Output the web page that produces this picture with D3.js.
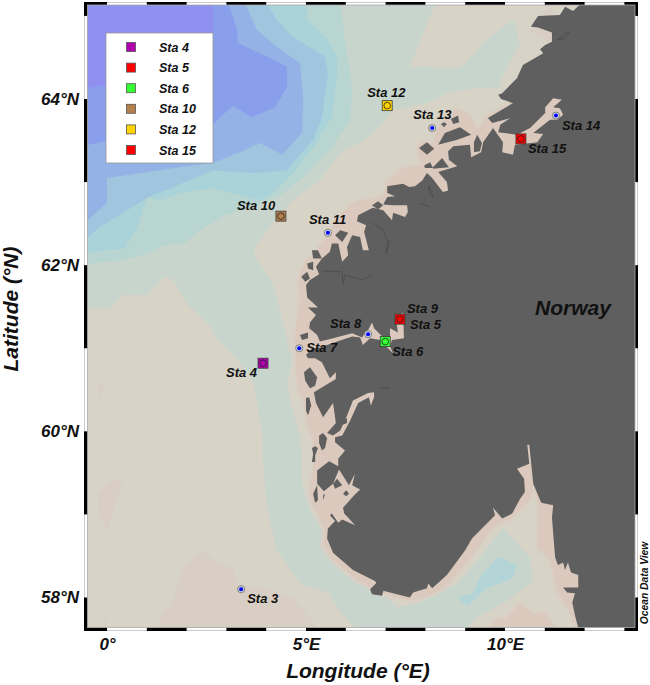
<!DOCTYPE html>
<html>
<head>
<meta charset="utf-8">
<script src="https://cdn.jsdelivr.net/npm/d3@7"></script>
<style>
body { margin: 0; background: #fff; }
text { font-family: "Liberation Sans", Arial, sans-serif; font-weight: bold; font-style: italic; fill: #111; }
</style>
</head>
<body>
<div id="map"></div>
<script>
// all outlines are [longitude E, latitude N]
const land = [[11.89,65.14],[11.71,65.06],[11.51,65.11],[11.38,65.01],[10.83,65.00],[10.65,64.87],[10.83,64.86],[11.18,64.80],[11.18,64.69],[11.01,64.65],[10.88,64.60],[10.96,64.55],[10.45,64.41],[10.30,64.25],[9.93,64.07],[9.83,64.05],[9.90,64.00],[10.20,63.95],[9.57,63.77],[9.68,63.71],[10.13,63.77],[9.88,63.69],[9.83,63.60],[10.30,63.57],[10.63,63.65],[11.01,63.83],[11.01,63.90],[11.21,64.01],[11.43,63.99],[11.21,63.90],[11.38,63.89],[11.46,63.81],[11.31,63.75],[11.13,63.75],[10.71,63.59],[10.96,63.58],[10.81,63.48],[10.50,63.46],[10.25,63.45],[10.20,63.33],[9.93,63.36],[9.95,63.48],[9.70,63.65],[9.45,63.48],[9.40,63.36],[9.15,63.30],[9.12,63.45],[8.70,63.43],[8.57,63.37],[8.59,63.27],[8.80,63.19],[8.32,63.12],[8.54,63.00],[8.57,62.90],[8.44,62.88],[8.17,63.05],[8.04,63.11],[7.92,63.02],[7.74,62.95],[7.59,62.94],[7.44,62.98],[7.04,62.95],[7.04,62.87],[7.24,62.83],[7.04,62.82],[6.94,62.73],[7.19,62.72],[7.54,62.72],[7.56,62.64],[7.49,62.58],[7.19,62.63],[7.16,62.54],[6.94,62.66],[6.68,62.69],[6.31,62.60],[6.28,62.53],[6.51,62.48],[6.46,62.40],[6.58,62.18],[6.43,62.18],[6.36,62.34],[6.16,62.36],[6.03,62.22],[6.06,62.12],[5.91,62.04],[5.81,62.26],[5.65,62.26],[5.60,62.16],[5.40,62.08],[5.25,61.98],[5.33,61.89],[5.10,61.82],[5.00,61.76],[5.03,61.61],[5.30,61.49],[5.05,61.49],[5.25,61.40],[5.10,61.31],[5.08,61.24],[5.28,61.16],[5.35,61.08],[5.68,61.12],[6.16,61.18],[6.41,61.13],[6.48,61.19],[6.56,61.22],[6.66,61.31],[6.71,61.24],[6.94,61.13],[7.11,61.13],[7.11,61.24],[7.31,61.19],[7.26,61.36],[7.44,61.43],[7.46,61.12],[7.16,61.10],[7.11,61.02],[7.19,60.94],[7.04,61.01],[6.86,61.10],[6.61,61.12],[6.43,61.04],[6.36,61.13],[6.16,61.14],[5.65,61.06],[5.35,61.01],[5.15,61.00],[5.00,60.92],[5.05,60.88],[5.23,60.88],[5.40,60.83],[5.60,60.64],[5.75,60.71],[5.75,60.63],[5.20,60.47],[5.25,60.34],[5.43,60.17],[5.68,60.34],[5.75,60.10],[5.53,59.98],[5.68,59.95],[5.86,60.01],[6.03,60.19],[6.18,60.37],[6.56,60.46],[6.71,60.47],[6.71,60.41],[6.63,60.31],[6.58,60.41],[6.31,60.34],[6.11,60.13],[5.91,59.95],[5.73,59.93],[5.73,59.87],[5.98,59.77],[5.81,59.67],[5.81,59.58],[5.58,59.64],[5.28,59.53],[5.28,59.37],[5.45,59.28],[5.68,59.37],[5.83,59.54],[6.08,59.35],[6.23,59.49],[6.16,59.35],[6.36,59.30],[6.21,59.23],[5.93,59.08],[5.96,59.01],[6.08,58.95],[6.23,58.87],[5.91,58.94],[5.81,58.90],[5.65,59.01],[5.60,58.99],[5.73,58.92],[5.55,58.83],[5.53,58.71],[5.68,58.54],[6.18,58.33],[6.73,58.20],[6.94,58.08],[7.61,58.00],[7.69,58.06],[8.04,58.11],[8.07,58.17],[8.17,58.11],[8.54,58.27],[9.00,58.57],[9.17,58.71],[9.75,58.99],[9.70,59.08],[9.93,58.95],[10.18,59.01],[10.38,59.19],[10.50,59.27],[10.48,59.43],[10.30,59.55],[10.61,59.61],[10.56,59.84],[10.61,59.84],[10.71,59.37],[10.91,59.14],[11.21,59.11],[11.18,58.96],[11.26,58.48],[11.33,58.39],[11.46,58.42],[11.51,58.33],[11.58,58.42],[11.66,58.30],[11.84,58.27],[11.84,58.12],[11.46,58.12],[11.56,58.06],[11.76,58.05],[11.69,57.94],[11.76,57.78],[11.86,57.6],[13.5,57.6],[13.5,65.2],[11.89,65.2]];

const islands = [
  [[5.86,62.42],[6.06,62.39],[5.91,62.28],[5.73,62.36]],
  [[5.15,62.18],[5.30,62.18],[5.40,62.08],[5.18,62.08]],
  [[5.03,62.02],[5.18,62.04],[5.18,61.94],[5.05,61.96]],
  [[4.88,61.86],[5.03,61.92],[5.10,61.84],[4.98,61.80]],
  [[4.85,61.16],[5.05,61.19],[5.05,61.12],[4.90,61.10]],
  [[4.95,60.71],[5.10,60.77],[5.28,60.65],[5.23,60.55],[5.10,60.52],[4.98,60.61]],
  [[5.00,60.40],[5.08,60.41],[5.13,60.31],[5.05,60.19],[5.00,60.25]],
  [[5.91,60.13],[6.03,60.16],[6.03,60.10],[5.93,60.08]],
  [[5.33,59.95],[5.43,59.98],[5.53,59.92],[5.48,59.80],[5.40,59.77],[5.33,59.86]],
  [[5.15,59.80],[5.23,59.82],[5.30,59.80],[5.23,59.71],[5.23,59.63],[5.15,59.63],[5.18,59.73]],
  [[5.68,59.37],[5.78,59.43],[5.91,59.35],[5.73,59.31]],
  [[5.93,59.25],[6.01,59.29],[6.08,59.25],[6.01,59.22]],
  [[5.18,59.25],[5.28,59.35],[5.30,59.17],[5.23,59.14]],
  [[5.43,59.23],[5.48,59.25],[5.43,59.17]],
  [[6.78,58.18],[6.86,58.14],[6.96,58.11],[6.91,58.02],[6.66,58.04],[6.61,58.10]],
  [[8.32,63.45],[8.49,63.59],[8.87,63.66],[9.15,63.57],[8.80,63.51]],
  [[7.84,63.41],[8.04,63.48],[8.22,63.40],[8.04,63.33]],
  [[8.39,63.70],[8.47,63.72],[8.54,63.70],[8.47,63.66]],
  [[8.64,63.76],[8.82,63.80],[8.85,63.72],[8.70,63.70]],
  [[7.97,63.20],[8.12,63.24],[8.19,63.17],[7.99,63.17]],
  [[8.19,63.18],[8.42,63.29],[8.59,63.18],[8.19,63.16]],
  [[9.30,63.57],[9.42,63.47],[9.37,63.37],[9.22,63.36],[9.22,63.48]],
  [[6.66,62.72],[6.81,62.77],[6.94,62.72],[6.81,62.67]]
];

const inlandLines = [
  [[5.43,61.93],[5.91,61.92],[5.93,61.78],[5.98,61.88],[6.41,61.82],[6.66,61.89]],
  [[6.68,62.51],[6.94,62.42],[7.06,62.28],[7.01,62.14],[7.11,62.29]],
  [[11.31,64.71],[11.56,64.80],[11.61,64.81],[11.51,64.73],[11.31,64.71]],
  [[7.82,62.75],[8.12,62.70]],
  [[8.09,62.95],[8.19,62.83],[8.09,62.87],[8.09,62.95]],
  [[6.86,60.53],[6.99,60.52],[7.11,60.52]]
];

// depth bands, shallow to deep, each one painted over the one before
const bandShelf = [[8.29,65.2],[7.61,64.39],[8.87,64.37],[9.62,64.75],[10.20,64.95],[10.38,64.67],[9.88,64.23],[9.88,64.14],[9.20,64.13],[8.54,64.07],[8.04,63.95],[7.19,63.87],[6.86,63.66],[6.36,63.47],[5.93,63.39],[5.35,63.02],[4.77,62.82],[4.35,62.63],[3.67,62.18],[3.79,62.06],[4.17,61.78],[4.65,60.86],[4.52,60.58],[4.60,60.37],[4.85,59.93],[4.90,59.65],[4.90,59.37],[5.10,59.05],[5.53,58.72],[5.68,58.53],[6.68,58.17],[7.29,57.88],[7.79,57.93],[8.37,58.05],[8.80,58.17],[9.37,58.48],[9.95,58.84],[10.63,58.48],[10.71,58.20],[10.05,57.96],[9.30,57.76],[8.95,57.6],[6.28,57.6],[5.78,57.88],[5.60,58.05],[4.85,58.17],[4.27,58.57],[4.02,59.08],[3.92,59.65],[3.92,59.93],[3.67,60.61],[3.54,60.70],[3.14,60.94],[2.79,61.10],[2.54,61.30],[2.04,61.52],[1.66,61.82],[1.46,61.86],[1.26,61.78],[1.01,61.64],[0.38,61.64],[0.08,61.48],[-0.8,61.48],[-0.8,65.2]];
const bandPale = [[5.86,65.2],[5.98,64.71],[6.16,64.11],[6.11,63.75],[5.60,63.39],[4.98,63.08],[4.35,62.84],[3.72,62.72],[2.97,62.60],[2.34,62.42],[1.96,62.27],[1.46,62.24],[1.01,62.14],[0.40,62.06],[-0.8,62.00],[-0.8,65.2]];
const bandTeal = [[4.98,65.2],[5.05,64.95],[5.55,64.71],[5.78,64.51],[5.78,64.27],[5.65,63.78],[5.18,63.42],[4.67,63.11],[4.05,62.82],[3.77,62.78],[2.66,62.93],[1.83,62.87],[1.33,62.78],[1.01,62.82],[0.75,62.45],[0.45,62.20],[-0.05,62.18],[-0.8,62.12],[-0.8,65.2]];
const bandSky = [[3.97,65.2],[4.27,64.95],[4.67,64.75],[5.48,64.51],[5.55,64.31],[5.40,63.78],[5.18,63.51],[4.52,63.14],[3.67,63.11],[2.66,63.14],[1.66,62.94],[1.01,62.81],[0.40,62.63],[-0.18,62.46],[-0.8,62.20],[-0.8,65.2]];
const bandBlue = [[3.42,65.2],[3.77,64.83],[4.27,64.63],[4.85,64.43],[4.93,64.02],[4.90,63.59],[4.40,63.33],[3.84,63.47],[3.34,63.36],[2.66,63.23],[1.83,63.18],[1.01,63.12],[0,63.05],[0,62.75],[-0.8,62.40],[-0.8,65.2]];
const bandDeep = [[3.02,65.2],[3.27,64.83],[3.29,64.67],[4.02,64.51],[4.52,64.39],[4.52,64.14],[4.22,63.90],[3.64,63.78],[3.17,63.92],[2.84,63.78],[2.66,63.69],[0.83,63.57],[-0.8,63.42],[-0.8,65.2]];
const bandDeepest = [[2.66,65.2],[2.66,64.47],[-0.03,64.17],[-0.8,64.11],[-0.8,65.2]];

// Skagerrak pocket
const skagerrakPocket = [[8.80,57.99],[9.20,58.05],[9.37,58.24],[9.82,58.49],[10.30,58.39],[10.20,58.23],[9.55,58.11],[9.05,57.90]];

// shallow water along the coast
const coastWest = [[10.23,63.99],[9.88,63.89],[9.55,63.80],[9.37,63.65],[9.27,63.65],[9.12,63.82],[8.75,63.89],[8.49,63.77],[8.29,63.63],[8.19,63.47],[7.87,63.48],[7.77,63.39],[7.92,63.20],[7.49,63.18],[7.29,63.12],[7.01,62.99],[6.96,62.84],[6.81,62.81],[6.36,62.78],[6.11,62.72],[5.81,62.60],[5.60,62.39],[5.28,62.20],[4.98,62.04],[4.85,61.90],[4.80,61.76],[4.85,61.61],[4.77,61.34],[4.72,61.13],[4.75,60.92],[4.77,60.55],[4.93,60.37],[5.03,60.07],[5.18,59.89],[5.18,59.53],[5.08,59.29],[5.15,59.11],[5.30,58.99],[5.48,58.81],[5.43,58.63],[5.68,58.45],[6.23,58.23],[6.86,58.06],[7.61,57.96],[8.17,58.04],[8.62,58.18],[9.12,58.47],[9.75,58.87],[10.13,58.94],[10.63,59.17],[11,60],[11.8,63.5],[11.5,64.1]];
const coastEast = [[10.63,59.53],[10.83,59.13],[10.81,58.60],[11.13,58.45],[11.31,58.08],[11.56,57.88],[11.81,57.6],[12.39,57.6],[12.39,59.53]];
const patchSouth = [[9.55,57.6],[9.80,57.75],[10.05,57.75],[10.38,57.93],[10.71,57.81],[11.01,57.81],[11.31,57.6]];
const patchSouthWest = [[1.26,57.6],[1.41,57.84],[1.63,57.90],[1.88,58.33],[2.39,58.57],[2.76,58.41],[3.17,58.36],[3.29,58.14],[3.59,58.14],[4.17,58.08],[4.67,58.00],[5.35,57.6]];
const patchSmall = [
  [[-0.23,59.27],[0.20,59.42],[0.38,59.39],[0,58.78],[-0.23,59.05]],
  [[-0.23,60.58],[-0.03,60.58],[-0.20,60.40]],
  [[-0.18,57.6],[0,57.78],[0,57.6]],
  [[11.13,65.10],[10.93,65.01],[11.38,64.96]],
  [[10.58,64.84],[11.26,64.86],[11.26,64.65],[10.83,64.75]]
];

// sampled stations
const sampledNames = ['Sta 4', 'Sta 5', 'Sta 6', 'Sta 10', 'Sta 12', 'Sta 15'];
const sampledLon = [3.92, 7.36, 6.99, 4.37, 7.04, 10.40];
const sampledLat = [60.82, 61.35, 61.08, 62.59, 63.92, 63.52];
const sampledColors = ['#b000b0', '#ff0000', '#33ff33', '#b3804d', '#ffd400', '#ff0000'];

// other stations
const otherNames = ['Sta 3', 'Sta 7', 'Sta 8', 'Sta 9', 'Sta 11', 'Sta 13', 'Sta 14'];
const otherLon = [3.37, 4.83, 6.56, 7.36, 5.55, 8.17, 11.28];
const otherLat = [58.10, 61.00, 61.17, 61.35, 62.39, 63.65, 63.80];

const lonTicks = [0, 5, 10];
const lonTickLabels = ['0°', '5°E', '10°E'];
const latTicks = [58, 60, 62, 64];
const latTickLabels = ['58°N', '60°N', '62°N', '64°N'];
const lonBands = [-1, 1, 3, 5, 7, 9, 11, 13];
const latBands = [57, 59, 61, 63, 65];

const width = 650;
const height = 685;
const frame = {left: 87.5, right: 635, top: 5, bottom: 627.5};

const x = d3.scaleLinear().domain([0, 10]).range([107, 505]);
const y = d3.scaleLinear().domain([58, 64]).range([597.5, 99]);

const svg = d3.select('#map').append('svg')
  .attr('width', width)
  .attr('height', height)
  .style('display', 'block');

svg.append('clipPath').attr('id', 'frame').append('rect')
  .attr('x', frame.left).attr('y', frame.top)
  .attr('width', frame.right - frame.left).attr('height', frame.bottom - frame.top);

const outline = d3.line().x(d => x(d[0])).y(d => y(d[1]));
const closed = d => outline(d) + 'Z';

const map = svg.append('g').attr('clip-path', 'url(#frame)');

map.append('rect')
  .attr('x', frame.left).attr('y', frame.top)
  .attr('width', frame.right - frame.left).attr('height', frame.bottom - frame.top)
  .attr('fill', '#d7d3c7');

function fillArea(points, color) {
  map.append('path').attr('d', closed(points)).attr('fill', color);
}

patchSmall.forEach(p => fillArea(p, '#d8cec3'));
fillArea(patchSouthWest, '#d8cec3');

fillArea(bandShelf, '#c8d5cd');
fillArea(bandPale, '#b9d5d2');
fillArea(bandTeal, '#a9d3d9');
fillArea(bandSky, '#a0c5df');
fillArea(bandBlue, '#94b2e6');
fillArea(bandDeep, '#899fec');
fillArea(bandDeepest, '#8f90f0');
fillArea(skagerrakPocket, '#b4d5d8');

// coast shallows: a paler halo first, then the darker band
[coastWest, coastEast, patchSouth].forEach(p => {
  map.append('path').attr('d', closed(p))
    .attr('fill', '#d9d1c5').attr('stroke', '#d9d1c5')
    .attr('stroke-width', 6).attr('stroke-linejoin', 'round');
});
[coastWest, coastEast, patchSouth].forEach(p => fillArea(p, '#dac9bc'));

fillArea(land, '#5f5f5f');
islands.forEach(p => fillArea(p, '#5f5f5f'));

map.selectAll('.inland')
  .data(inlandLines)
  .join('path')
    .attr('class', 'inland')
    .attr('d', outline)
    .attr('fill', 'none')
    .attr('stroke', '#474747')
    .attr('stroke-width', 0.7);

// checkered frame
const frameBars = svg.append('g').attr('clip-path', 'url(#outer)');
svg.append('clipPath').attr('id', 'outer').append('rect')
  .attr('x', 84).attr('y', 2).attr('width', 554).attr('height', 629);

frameBars.append('rect')
  .attr('x', 84).attr('y', 2).attr('width', 554).attr('height', 629)
  .attr('fill', 'none').attr('stroke', '#bbb').attr('stroke-width', 1.5);

frameBars.selectAll('.barTop')
  .data(lonBands)
  .join('rect')
    .attr('x', d => x(d)).attr('y', 2)
    .attr('width', d => x(d + 1) - x(d)).attr('height', 3)
    .attr('fill', '#000');

frameBars.selectAll('.barBottom')
  .data(lonBands)
  .join('rect')
    .attr('x', d => x(d)).attr('y', frame.bottom)
    .attr('width', d => x(d + 1) - x(d)).attr('height', 3.5)
    .attr('fill', '#000');

[84, frame.right].forEach(left => {
  frameBars.append('g').selectAll('rect')
    .data(latBands)
    .join('rect')
      .attr('x', left).attr('y', d => y(d + 1))
      .attr('width', 3.5).attr('height', d => y(d) - y(d + 1))
      .attr('fill', '#000');
});

svg.append('rect')
  .attr('x', frame.left).attr('y', frame.top)
  .attr('width', frame.right - frame.left).attr('height', frame.bottom - frame.top)
  .attr('fill', 'none').attr('stroke', '#aaa').attr('stroke-width', 0.8);

// stations
const marks = svg.append('g');

marks.selectAll('.plain')
  .data(otherNames.filter(n => n !== 'Sta 9'))
  .join('g')
    .attr('transform', n => {
      const i = otherNames.indexOf(n);
      return `translate(${x(otherLon[i])},${y(otherLat[i])})`;
    })
    .call(g => g.append('circle').attr('r', 3.6).attr('fill', '#c9d2d6').attr('stroke', '#666').attr('stroke-width', 0.7))
    .call(g => g.append('circle').attr('r', 2).attr('fill', '#0000ff'));

marks.selectAll('.sampled')
  .data(sampledNames)
  .join('g')
    .attr('transform', (n, i) => `translate(${x(sampledLon[i])},${y(sampledLat[i])})`)
    .call(g => g.append('rect').attr('x', -5).attr('y', -5).attr('width', 10).attr('height', 10)
      .attr('fill', (n, i) => sampledColors[i]).attr('stroke', '#3a3a3a').attr('stroke-width', 0.8))
    .call(g => g.append('circle').attr('r', 3.3)
      .attr('fill', (n, i) => sampledColors[i]).attr('stroke', '#222').attr('stroke-width', 0.8));

// label placement relative to the station mark
const labelOffset = {
  'Sta 3': [6, 14], 'Sta 4': [-37, 14], 'Sta 5': [10, 10], 'Sta 6': [7, 14],
  'Sta 7': [7, 4], 'Sta 8': [-38, -6], 'Sta 9': [7, -6], 'Sta 10': [-44, -6],
  'Sta 11': [-19, -9], 'Sta 12': [-20, -9], 'Sta 13': [-19, -9], 'Sta 14': [6, 14],
  'Sta 15': [7, 14]
};

function stationLabel(name, lon, lat) {
  const off = labelOffset[name];
  svg.append('text')
    .attr('x', x(lon) + off[0])
    .attr('y', y(lat) + off[1])
    .attr('font-size', 13)
    .text(name);
}
sampledNames.forEach((n, i) => stationLabel(n, sampledLon[i], sampledLat[i]));
otherNames.forEach((n, i) => stationLabel(n, otherLon[i], otherLat[i]));

// legend
const legendRow = d3.scalePoint().domain(sampledNames).range([47, 150]);
const legend = svg.append('g');
legend.append('rect')
  .attr('x', 106).attr('y', 33).attr('width', 107).attr('height', 130)
  .attr('fill', '#fff').attr('stroke', '#999').attr('stroke-width', 0.8);
legend.selectAll('.swatch')
  .data(sampledNames)
  .join('rect')
    .attr('x', 126.5).attr('y', d => legendRow(d) - 4.5)
    .attr('width', 9).attr('height', 9)
    .attr('fill', (d, i) => sampledColors[i])
    .attr('stroke', '#555').attr('stroke-width', 0.8);
legend.selectAll('text')
  .data(sampledNames)
  .join('text')
    .attr('x', 159).attr('y', d => legendRow(d) + 4.5)
    .attr('font-size', 12.5)
    .text(d => d);

// axes
const xAxis = d3.axisBottom(x)
  .tickValues(lonTicks)
  .tickFormat((d, i) => lonTickLabels[i])
  .tickSize(0);
svg.append('g')
  .attr('transform', 'translate(0,635)')
  .call(xAxis)
  .call(g => g.select('.domain').remove())
  .call(g => g.selectAll('text').attr('font-size', 17).attr('dy', 0).attr('y', 15));

const yAxis = d3.axisLeft(y)
  .tickValues(latTicks)
  .tickFormat((d, i) => latTickLabels[i])
  .tickSize(0);
svg.append('g')
  .attr('transform', 'translate(79,0)')
  .call(yAxis)
  .call(g => g.select('.domain').remove())
  .call(g => g.selectAll('text').attr('font-size', 17).attr('x', 0).attr('dy', '0.32em'));

svg.append('text')
  .attr('x', 358).attr('y', 678)
  .attr('text-anchor', 'middle')
  .attr('font-size', 21)
  .text('Longitude (°E)');

svg.append('text')
  .attr('transform', 'translate(18,309) rotate(-90)')
  .attr('text-anchor', 'middle')
  .attr('font-size', 21)
  .text('Latitude (°N)');

svg.append('text')
  .attr('x', 535).attr('y', 315)
  .attr('font-size', 21)
  .text('Norway');

svg.append('text')
  .attr('transform', 'translate(648,583) rotate(-90)')
  .attr('text-anchor', 'middle')
  .attr('font-size', 10.3)
  .text('Ocean Data View');
</script>
</body>
</html>
